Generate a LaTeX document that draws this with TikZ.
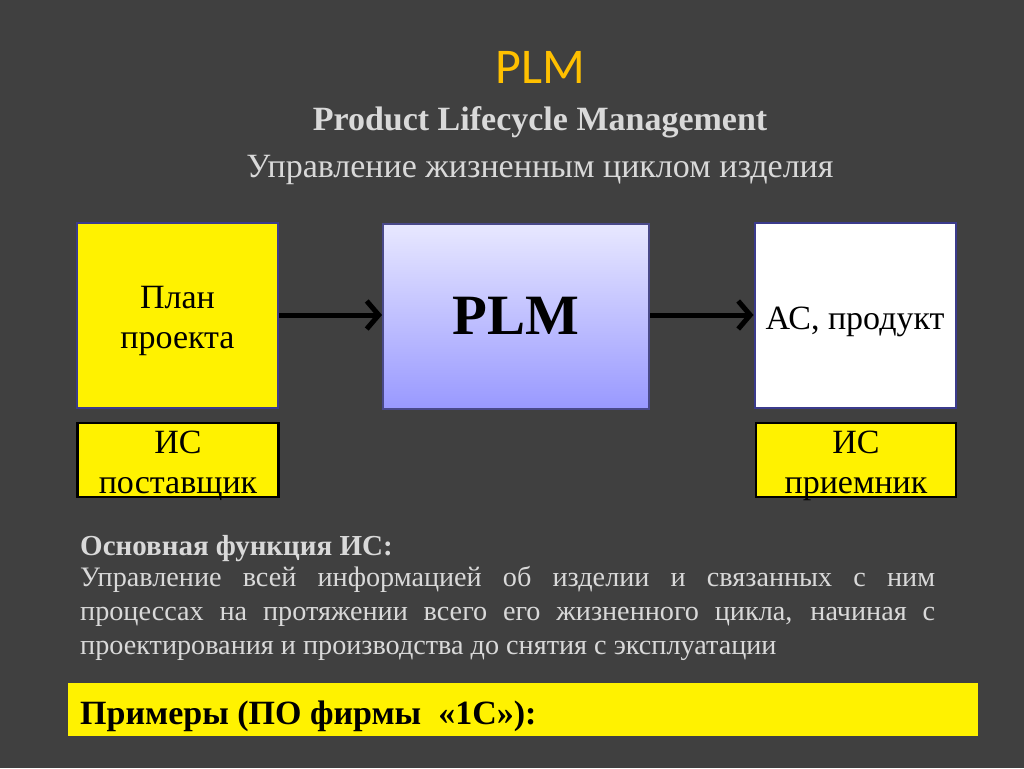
\documentclass[tikz,border=0pt]{standalone}
\usepackage{fontspec}
\setmainfont{Liberation Serif}
\newfontfamily\headfont{Carlito}
\usetikzlibrary{arrows.meta}
\definecolor{slidebg}{HTML}{404040}
\definecolor{titlegold}{HTML}{FFC000}
\definecolor{lightgrey}{HTML}{D9D9D9}
\definecolor{boxblue}{HTML}{3B3B8C}
\definecolor{plmtop}{HTML}{E8E8FF}
\definecolor{plmbottom}{HTML}{9999FF}

\begin{document}
\begin{tikzpicture}[x=1pt, y=-1pt,
  bigbox/.style={draw=boxblue, line width=2pt, minimum width=201pt, minimum height=185pt, inner sep=0pt},
  isbox/.style={draw=black, line width=2.5pt, fill=yellow, minimum width=201pt, minimum height=74pt, inner sep=0pt},
  boxtext/.style={font=\fontsize{34}{40}\selectfont, align=center, inner sep=0pt},
  greytext/.style={text=lightgrey, inner sep=0pt},
  flow/.style={line width=5pt, -{Straight Barb[length=12pt, width=28pt]}}
]
  \useasboundingbox[fill=slidebg] (0,0) rectangle (1024,768);

  % headings
  \node[text=titlegold, inner sep=0pt, font=\headfont\fontsize{50}{58}\selectfont] (title) at (540,67) {PLM};
  \node[greytext, anchor=base, font=\bfseries\fontsize{34}{40}\selectfont] (subtitle) at (540,130) {Product Lifecycle Management};
  \node[greytext, anchor=base, font=\fontsize{34}{40}\selectfont] (subtitleru) at (540,177) {Управление жизненным циклом изделия};

  % the three blocks
  \node[bigbox, fill=yellow] (plan) at (177.5,315) {};
  \node[bigbox, minimum width=266pt, draw=boxblue!80!gray, top color=plmtop, bottom color=plmbottom,
        font=\bfseries\fontsize{57}{66}\selectfont] (plm) at (516,316) {PLM};
  \node[bigbox, fill=white] (product) at (855,315) {};
  \node[boxtext] (plantext) at ([yshift=-5.5pt]plan.center) {План\\проекта};
  \node[boxtext, anchor=base] (producttext) at (855,329) {АС, продукт};

  \draw[flow] (plan.east |- 0,315) -- (plm.west |- 0,315);
  \draw[flow] (plm.east |- 0,315) -- (product.west |- 0,315);

  % IS boxes
  \node[isbox] (supplier) at (178,460) {};
  \node[isbox, minimum width=200pt] (receiver) at (856,460) {};
  \node[boxtext] (suppliertext) at ([yshift=-5.5pt]supplier.center) {ИС\\поставщик};
  \node[boxtext] (receivertext) at ([yshift=-5.5pt]receiver.center) {ИС\\приемник};

  % main function text
  \node[greytext, anchor=base west, font=\bfseries\fontsize{29}{34}\selectfont] (funchead) at (80,555) {Основная функция ИС:};
  \node[greytext, anchor=north west, font=\fontsize{28.2}{34}\selectfont] (functext) at (80,566)
    {\parbox{855pt}{\parindent=0pt
     Управление всей информацией об изделии и связанных с~ним\linebreak
     процессах на протяжении всего его жизненного цикла, начиная с\linebreak
     проектирования и производства до снятия с эксплуатации}};

  % examples bar
  \node[fill=yellow, minimum width=910pt, minimum height=53pt, inner sep=0pt, anchor=north west] (examples) at (68,683) {};
  \node[anchor=base west, inner sep=0pt, font=\bfseries\fontsize{34}{40}\selectfont] (examplestext) at (80,724) {Примеры (ПО фирмы~ «1С»):};
\end{tikzpicture}
\end{document}
